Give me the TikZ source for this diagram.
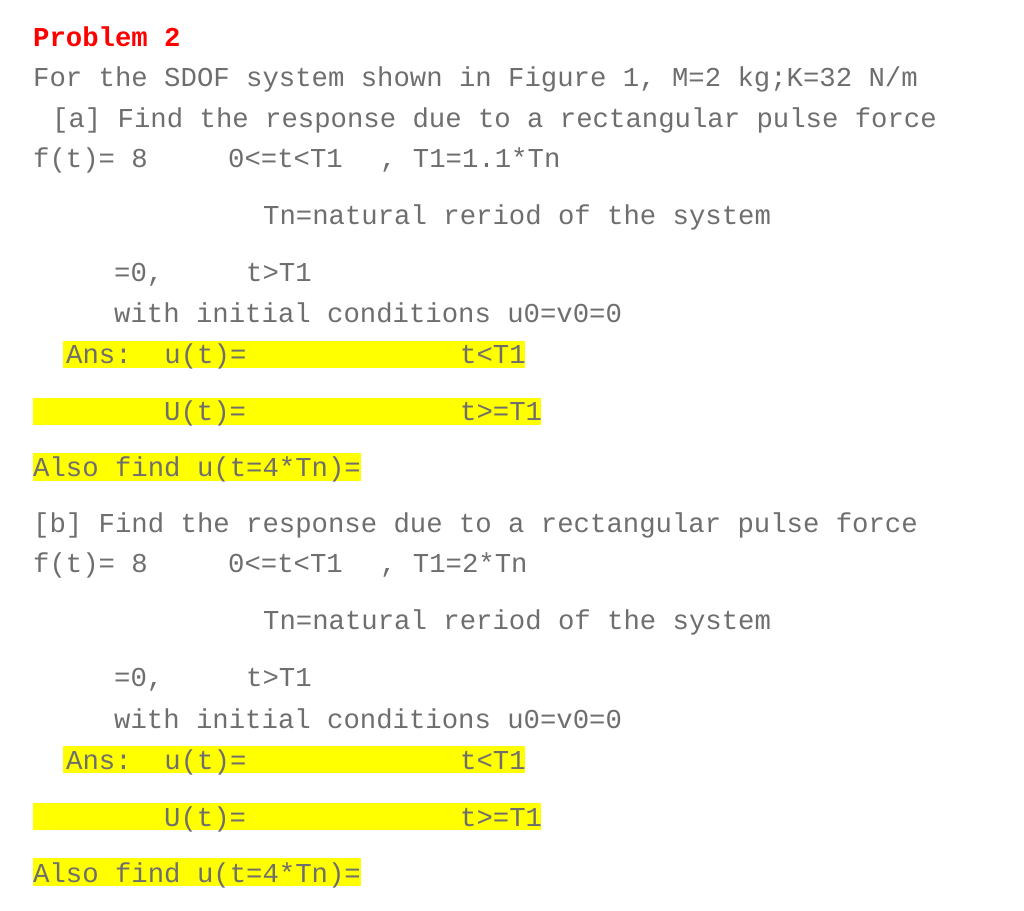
\documentclass[tikz,border=0pt]{standalone}
\usepackage{fontspec}
\setmonofont{Liberation Mono}
\definecolor{txt}{HTML}{6E6E6E}
\definecolor{hl}{HTML}{FFFF00}
\begin{document}
\begin{tikzpicture}[x=1pt,y=1pt,
  t/.style={anchor=base west,inner sep=0pt,text=txt,font=\fontsize{27.3}{30}\selectfont\ttfamily}]
\useasboundingbox (0,0) rectangle (1024,910);
\newcommand{\blk}[4]{%
 \fill[hl] (63,{910-341-#1}) rectangle (525,{910-368-#1});
 \fill[hl] (33,{910-398-#1}) rectangle (541,{910-425-#1});
 \fill[hl] (33,{910-453-#1}) rectangle (361,{910-481-#1});
 \node[t] (a#2) at (#3,{910-128-#1}) {[#2] Find the response due to a rectangular pulse force};
 \node[t] (f#2) at (33,{910-168-#1}) {f(t)= 8};
 \node[t] (g#2) at (228,{910-168-#1}) {0<=t<T1};
 \node[t] (h#2) at (380,{910-168-#1}) {, T1=#4*Tn};
 \node[t] (n#2) at (263,{910-225-#1}) {Tn=natural reriod of the system};
 \node[t] (z#2) at (114,{910-282-#1}) {=0,};
 \node[t] (y#2) at (246,{910-282-#1}) {t>T1};
 \node[t] (w#2) at (114,{910-323-#1}) {with initial conditions u0=v0=0};
 \node[t] (s#2) at (66,{910-364-#1}) {Ans:\ \ u(t)=};
 \node[t] (r#2) at (460,{910-364-#1}) {t<T1};
 \node[t] (q#2) at (164,{910-421-#1}) {U(t)=};
 \node[t] (p#2) at (460,{910-421-#1}) {t>=T1};
 \node[t] (o#2) at (33,{910-477-#1}) {Also find u(t=4*Tn)=};
}
\node[t,text=red,font=\fontsize{27.3}{30}\selectfont\ttfamily\bfseries] (title) at (33,{910-47}) {Problem 2};
\node[t] (intro) at (33,{910-87}) {For the SDOF system shown in Figure 1, M=2 kg;K=32 N/m};
\blk{0}{a}{52}{1.1}
\blk{405}{b}{33}{2}
\end{tikzpicture}
\end{document}
